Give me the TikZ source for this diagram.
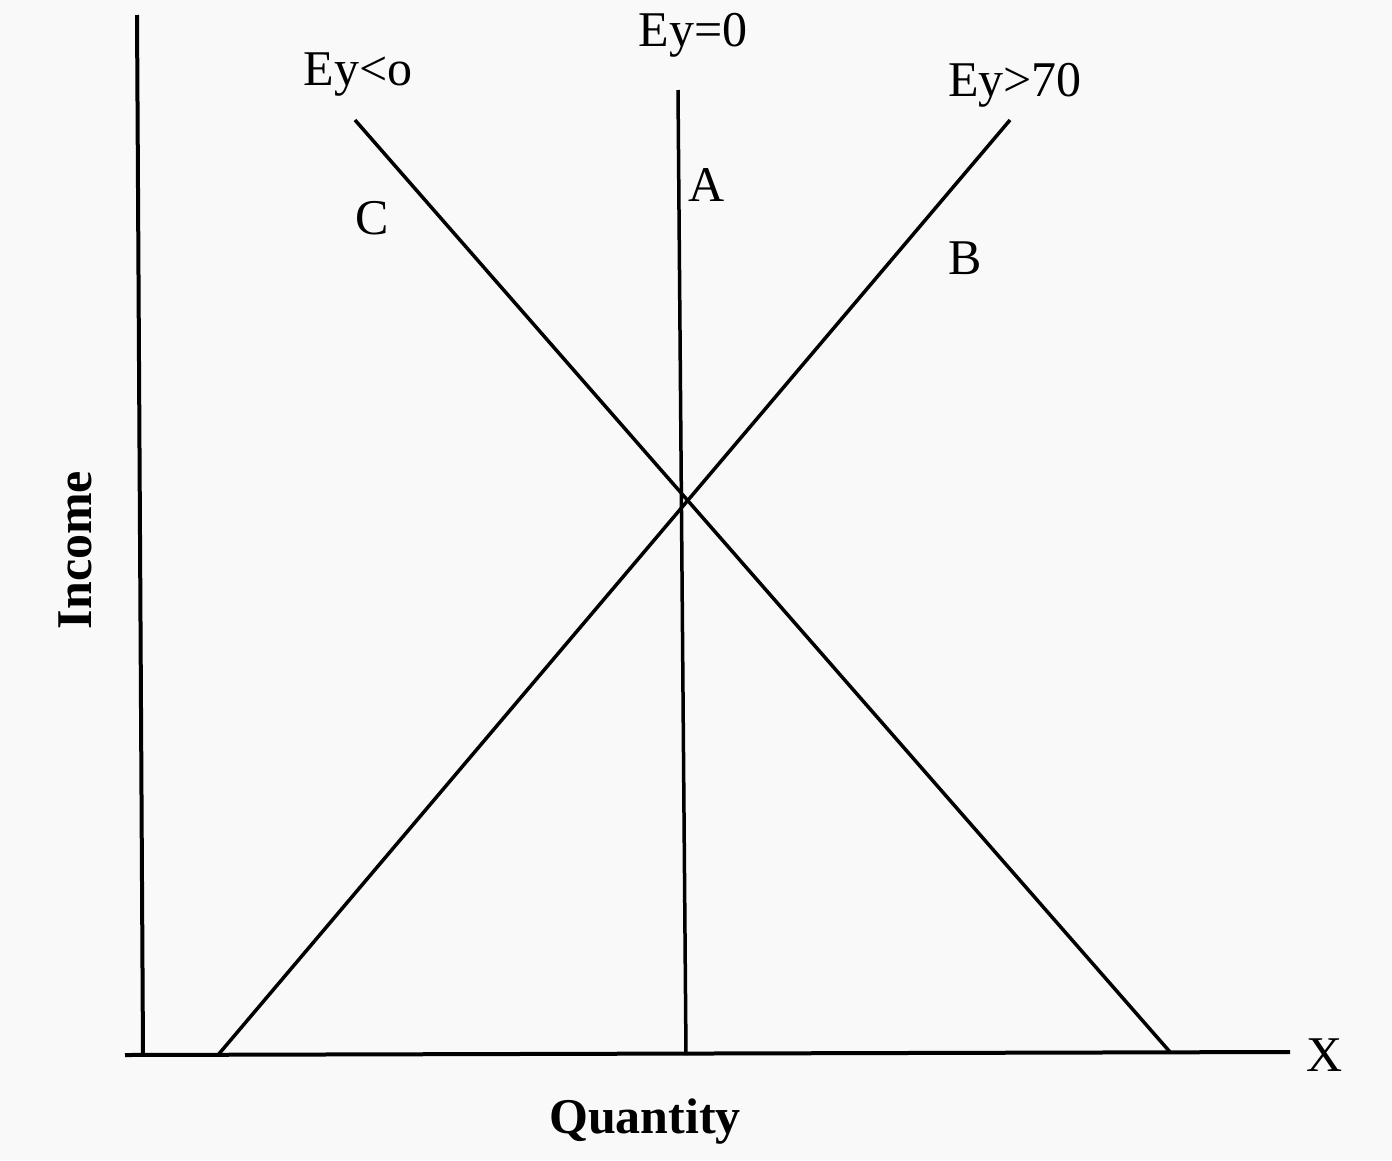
\documentclass[tikz,border=0pt]{standalone}
\usepackage{fontspec}
\setmainfont{Liberation Serif}
\begin{document}
\begin{tikzpicture}[x=1pt,y=-1pt,line width=4pt,
  lab/.style={font=\fontsize{50}{56}\selectfont},
  ax/.style={font=\fontsize{50}{56}\selectfont\bfseries}]
\fill[white!95!gray] (0,0) rectangle (1392,1160);
\useasboundingbox (0,0) rectangle (1392,1160);
\coordinate (yt) at (137,15); \coordinate (yb) at (143,1055);
\coordinate (xl) at (125,1055); \coordinate (xr) at (1290,1052);
\coordinate (at) at (678,90); \coordinate (ab) at (686,1055);
\coordinate (bb) at (218,1055); \coordinate (bt) at (1010,120);
\coordinate (ct) at (355,120); \coordinate (cb) at (1170,1052);
\draw (yt) -- (yb);
\draw (xl) -- (xr);
\draw[line width=3.5pt] (at) -- (ab);
\draw[line width=3.5pt] (bb) -- (bt);
\draw[line width=3.5pt] (ct) -- (cb);
\node[lab] (l0) at (693,35) {Ey=0};
\node[lab] (l1) at (358,75) {Ey<o};
\node[lab] (l2) at (1015,85) {Ey>70};
\node[lab] (la) at (707,185) {A};
\node[lab] (lc) at (372,218) {C};
\node[lab] (lb) at (965,258) {B};
\node[lab] (lx) at (1325,1055) {X};
\node[ax] (q) at (645,1122) {Quantity};
\node[ax,rotate=90] (inc) at (75,550) {Income};
\end{tikzpicture}
\end{document}
